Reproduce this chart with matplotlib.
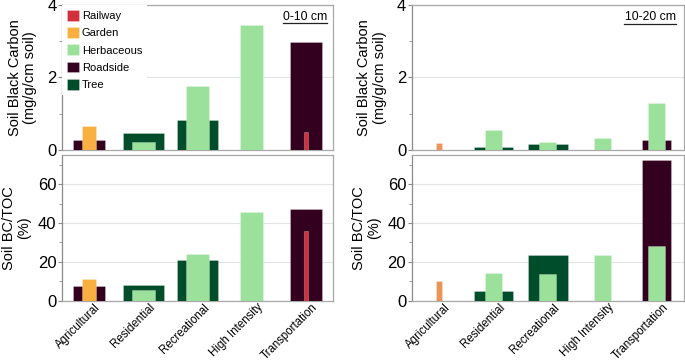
import numpy as np
import matplotlib
matplotlib.use("Agg")
import matplotlib.pyplot as plt
from matplotlib.patches import Patch
from matplotlib.ticker import MultipleLocator
import matplotlib.transforms as mtransforms

plt.rcParams['font.family'] = ['Liberation Sans', 'DejaVu Sans']

nan = np.nan
categories = ["Agricultural", "Residential", "Recreational", "High Intensity", "Transportation"]
series_names = ["Railway", "Garden", "Herbaceous", "Roadside", "Tree"]
colors = {"Railway": "#D1303B", "Garden": "#F9B040", "Herbaceous": "#9BE09B",
          "Roadside": "#33001F", "Tree": "#004D2B"}
garden_deep_color = "#EC9358"

# Soil black carbon (mg/g/cm soil), 0-10 cm
bc_top_railway = [nan, nan, nan, nan, 0.50]
bc_top_garden = [0.65, nan, nan, nan, nan]
bc_top_herb = [nan, 0.21, 1.77, 3.45, nan]
bc_top_roadside = [0.27, nan, nan, nan, 2.98]
bc_top_tree = [nan, 0.48, 0.83, nan, nan]

# Soil black carbon, 10-20 cm
bc_deep_railway = [nan, nan, nan, nan, nan]
bc_deep_garden = [0.20, nan, nan, nan, nan]
bc_deep_herb = [nan, 0.55, 0.23, 0.34, 1.30]
bc_deep_roadside = [nan, nan, nan, nan, 0.27]
bc_deep_tree = [nan, 0.07, 0.16, nan, nan]

# Soil BC/TOC (%), 0-10 cm
toc_top_railway = [nan, nan, nan, nan, 35.9]
toc_top_garden = [11.2, nan, nan, nan, nan]
toc_top_herb = [nan, 5.7, 23.9, 45.6, nan]
toc_top_roadside = [7.6, nan, nan, nan, 47.4]
toc_top_tree = [nan, 8.1, 20.8, nan, nan]

# Soil BC/TOC (%), 10-20 cm
toc_deep_railway = [nan, nan, nan, nan, nan]
toc_deep_garden = [10.3, nan, nan, nan, nan]
toc_deep_herb = [nan, 14.3, 14.0, 23.3, 28.1]
toc_deep_roadside = [nan, nan, nan, nan, 72.6]
toc_deep_tree = [nan, 5.2, 23.3, nan, nan]

W, H = 685, 362
fig = plt.figure(figsize=(W / 100, H / 100), dpi=100)

def frac(l, r, t, b):
    return [l / W, 1 - b / H, (r - l) / W, (b - t) / H]

ax_tl = fig.add_axes(frac(62, 333, 5, 150))
ax_tr = fig.add_axes(frac(411.7, 684, 5, 150))
ax_bl = fig.add_axes(frac(62, 333, 155, 300.7))
ax_br = fig.add_axes(frac(411.7, 684, 155, 300.7))

widths_left = {"Roadside": 0.58, "Tree": 0.75, "Herbaceous": 0.42, "Garden": 0.26, "Railway": 0.086}
widths_right = {"Roadside": 0.54, "Tree": 0.73, "Herbaceous": 0.31, "Garden": 0.105, "Railway": 0.086}

x = np.arange(len(categories))

def draw(ax, data, widths, garden_color):
    order = ["Roadside", "Tree", "Herbaceous", "Garden", "Railway"]
    for name in order:
        vals = np.array(data[name], dtype=float)
        c = garden_color if name == "Garden" else colors[name]
        ax.bar(x, vals, width=widths[name], color=c, edgecolor=(1, 1, 1, 0.35),
               linewidth=0.5, zorder=3)

def style(ax, ylim, major, minor, ylabel, show_x, labelpad):
    ax.set_xlim(-0.5, 4.5)
    ax.set_ylim(*ylim)
    ax.yaxis.set_major_locator(MultipleLocator(major))
    ax.yaxis.set_minor_locator(MultipleLocator(minor))
    ax.grid(axis='y', which='major', color='#e3e3e3', linewidth=0.8, zorder=0)
    ax.set_axisbelow(True)
    for s in ['top', 'right', 'bottom']:
        ax.spines[s].set_color('#a8a8a8')
        ax.spines[s].set_linewidth(0.9)
    ax.spines['left'].set_color('#8a8a8a')
    ax.spines['left'].set_linewidth(0.9)
    ax.tick_params(axis='y', which='major', length=3, width=0.8, color='#8a8a8a',
                   labelsize=12, pad=1)
    ax.tick_params(axis='y', which='minor', length=2, width=0.6, color='#8a8a8a')
    ax.set_xticks(x)
    ax.tick_params(axis='x', length=0, pad=0.5)
    if show_x:
        labels = ax.set_xticklabels(categories, rotation=45, ha='right',
                                    rotation_mode='anchor', fontsize=8.3)
        offset = mtransforms.ScaledTranslation(4 / 72, 0, fig.dpi_scale_trans)
        for lab in labels:
            lab.set_transform(lab.get_transform() + offset)
    else:
        ax.set_xticklabels([])
    ax.set_ylabel(ylabel, fontsize=10.5, linespacing=1.15, labelpad=labelpad)

def depth_label(ax, text, x0, x1, ytxt, yline):
    ax.text(x1, ytxt, text, transform=ax.transAxes, ha='right', va='center', fontsize=8.8,
            zorder=5)
    ax.plot([x0, x1], [yline, yline], transform=ax.transAxes, color='#222222',
            linewidth=0.9, clip_on=False, zorder=5)

draw(ax_tl, {"Railway": bc_top_railway, "Garden": bc_top_garden, "Herbaceous": bc_top_herb,
             "Roadside": bc_top_roadside, "Tree": bc_top_tree}, widths_left, colors["Garden"])
draw(ax_tr, {"Railway": bc_deep_railway, "Garden": bc_deep_garden, "Herbaceous": bc_deep_herb,
             "Roadside": bc_deep_roadside, "Tree": bc_deep_tree}, widths_right, garden_deep_color)
draw(ax_bl, {"Railway": toc_top_railway, "Garden": toc_top_garden, "Herbaceous": toc_top_herb,
             "Roadside": toc_top_roadside, "Tree": toc_top_tree}, widths_left, colors["Garden"])
draw(ax_br, {"Railway": toc_deep_railway, "Garden": toc_deep_garden, "Herbaceous": toc_deep_herb,
             "Roadside": toc_deep_roadside, "Tree": toc_deep_tree}, widths_right, garden_deep_color)

style(ax_tl, (0, 4), 2, 1, "Soil Black Carbon\n(mg/g/cm soil)", False, 7)
style(ax_tr, (0, 4), 2, 1, "Soil Black Carbon\n(mg/g/cm soil)", False, 7)
style(ax_bl, (0, 75), 20, 10, "Soil BC/TOC\n(%)", True, 4.5)
style(ax_br, (0, 75), 20, 10, "Soil BC/TOC\n(%)", True, 4.5)

depth_label(ax_tl, "0-10 cm", 0.815, 0.978, 0.918, 0.873)
depth_label(ax_tr, "10-20 cm", 0.778, 0.972, 0.914, 0.868)

handles = [Patch(facecolor=colors[n], edgecolor=(1, 1, 1, 0.35), linewidth=0.5) for n in series_names]
leg = ax_tl.legend(handles, series_names, loc='upper left', bbox_to_anchor=(0.0, 1.0),
                   frameon=True, fontsize=8, handlelength=1.1, handleheight=1.1,
                   handletextpad=0.25, labelspacing=0.55, borderaxespad=0.0,
                   borderpad=0.45, fancybox=False)
leg.get_frame().set_edgecolor('none')
leg.get_frame().set_facecolor('white')
leg.get_frame().set_alpha(1.0)
leg.set_zorder(4)

fig.savefig("out.png", dpi=100)
